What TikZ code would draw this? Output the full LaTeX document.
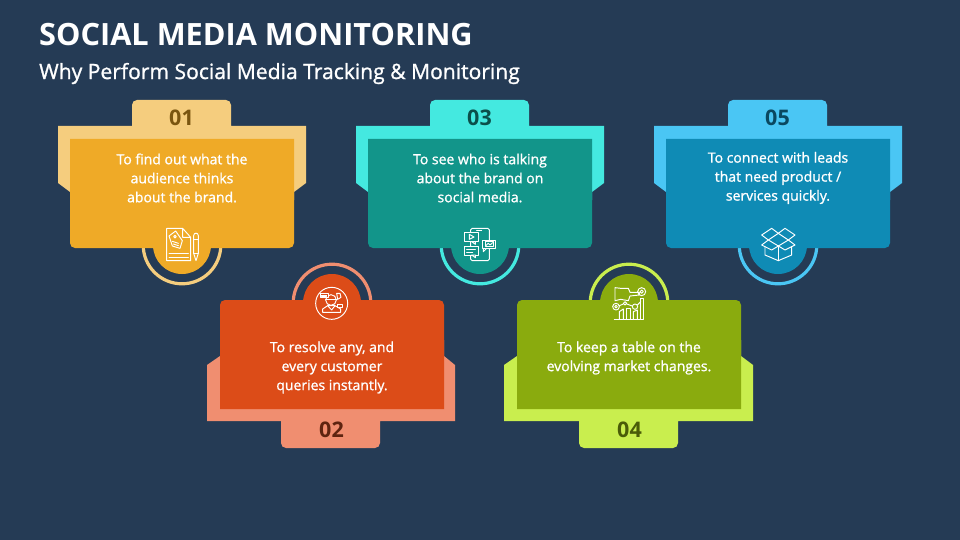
\documentclass[tikz,border=0pt]{standalone}
\usepackage{fontspec}
\setmainfont{Open Sans}
\newfontfamily\semib[FakeBold=1.1]{Open Sans}
\definecolor{bgc}{HTML}{253B55}
\definecolor{fa}{HTML}{EFAA27}\definecolor{ba}{HTML}{F5CD7E}\definecolor{na}{HTML}{7A5510}
\definecolor{fb}{HTML}{DC4C18}\definecolor{bb}{HTML}{F08E70}\definecolor{nb}{HTML}{5E2410}
\definecolor{fc}{HTML}{12958A}\definecolor{bc}{HTML}{44E9E0}\definecolor{nc}{HTML}{0B4F4A}
\definecolor{fd}{HTML}{8AAB0E}\definecolor{bd}{HTML}{C9EE4E}\definecolor{nd}{HTML}{4A5C08}
\definecolor{fe}{HTML}{0F8BB5}\definecolor{be}{HTML}{4AC6F4}\definecolor{ne}{HTML}{0A4860}
\tikzset{
  bodytext/.style={text=white,align=center,inner sep=0pt,font=\fontsize{14.0}{19}\selectfont\semib},
  numtext/.style={inner sep=0pt,font=\fontsize{21.5}{24}\selectfont\bfseries},
  ico/.style={draw=white,line width=0.95pt,line join=round,line cap=round},
  zoomed/.style={x=0.33333pt,y=-0.33333pt},
}
% top-tab card: #1 left of front, #2 front, #3 back, #4 number colour, #5 number, #6 name
\newcommand{\cardup}[6]{
  \begin{scope}[shift={(#1,0)}]
    \draw[draw=#3,line width=3.2pt] (112,245) circle[radius=38.8];
    \fill[#2] (112,245) circle[radius=29];
    \fill[#3] (-12,126) -- (62,126) [rounded corners=5pt] -- (62,100) -- (161,100) [sharp corners] -- (161,126) -- (236,126) -- (236,183) -- (224,192) -- (224,200) -- (0,200) -- (0,192) -- (-12,183) -- cycle;
    \fill[#2] (0,139) -- (224,139) [rounded corners=5pt] -- (224,248) -- (0,248) [sharp corners] -- (0,139) -- cycle;
    \node[numtext,text=#4] (#6) at (111.5,118) {#5};
  \end{scope}}
% bottom-tab card: #7 tab offset (px)
\newcommand{\carddown}[7]{
  \begin{scope}[shift={(#1,0)}]
    \draw[draw=#3,line width=3.2pt] (112,303) circle[radius=38.8];
    \fill[#2] (112,303) circle[radius=29];
    \fill[#3] (-13,421) -- (61+#7,421) [rounded corners=5pt] -- (61+#7,448) -- (160+#7,448) [sharp corners] -- (160+#7,421) -- (235+#7,421) -- (235+#7,365) -- (224,356) -- (224,340) -- (0,340) -- (0,356) -- (-13,365) -- cycle;
    \fill[#2] (0,409) -- (224,409) [rounded corners=5pt] -- (224,300) -- (0,300) [sharp corners] -- (0,409) -- cycle;
    \node[numtext,text=#4] (#6) at (111.5+#7,430) {#5};
  \end{scope}}
\begin{document}
\begin{tikzpicture}[x=1pt,y=-1pt]
\path[use as bounding box,fill=bgc] (0,0) rectangle (960,540);
\node[anchor=west,inner sep=0pt,text=white,font=\fontsize{30.7}{36}\selectfont\bfseries] (title) at (39,34.5) {SOCIAL MEDIA MONITORING};
\node[anchor=west,inner sep=0pt,text=white,font=\fontsize{21.1}{24}\selectfont\semib] (subtitle) at (39,73.5) {Why Perform Social Media Tracking \& Monitoring};

\cardup{70}{fa}{ba}{na}{01}{n1}
\cardup{368}{fc}{bc}{nc}{03}{n3}
\cardup{666}{fe}{be}{ne}{05}{n5}
\carddown{220}{fb}{bb}{nb}{02}{n2}{0}
\carddown{517}{fd}{bd}{nd}{04}{n4}{1}

\node[bodytext] (t1) at (182,178) {To find out what the\\audience thinks\\about the brand.};
\node[bodytext] (t3) at (480,178) {To see who is talking\\about the brand on\\social media.};
\node[bodytext] (t5) at (778,178) {To connect with leads\\that need product /\\services quickly.};
\node[bodytext] (t2) at (332,367.5) {To resolve any, and\\every customer\\queries instantly.};
\node[bodytext] (t4) at (629,358) {To keep a table on the\\evolving market changes.};

% icon 01
\begin{scope}[shift={(135,220)},zoomed,ico]
  \draw (143,25) -- (95,25) -- (95,122) -- (167,122) -- (167,52) -- (143,25) -- (143,52) -- (167,52);
  \draw[fill=fa] (102,48) -- (122,33) -- (142,62) -- (135,85) -- (112,78) -- cycle;
  \draw (120,50) circle[radius=4];
  \draw (112,64) -- (130,70);
  \draw (115,72) -- (130,77);
  \draw (102,100) -- (160,100);
  \draw (102,112) -- (160,112);
  \draw (176,47) .. controls (176,37) and (190,37) .. (190,47) -- (190,100) -- (183,122) -- (176,100) -- cycle;
  \draw (176,58) -- (190,58);
  \draw (176,100) -- (190,100);
\end{scope}
% icon 03
\begin{scope}[shift={(430,220)},zoomed,ico]
  \draw[rounded corners=1.5pt] (122,25) rectangle (178,122);
  \draw (140,31) -- (155,31);
  \draw[fill=fc] (103,37) rectangle (145,65);
  \draw[fill=fc] (125,65) -- (136,65) -- (136,73) -- cycle;
  \draw (118,43) -- (132,51) -- (118,58) -- cycle;
  \draw[fill=fc] (103,80) rectangle (145,105);
  \draw[fill=fc] (125,105) -- (136,105) -- (136,113) -- cycle;
  \draw (110,88) -- (136,88);
  \draw (110,96) -- (128,96);
  \draw[fill=fc] (158,60) rectangle (197,85);
  \draw (160,85) -- (160,95) -- (170,85);
  \draw (165,65) rectangle (190,80);
  \draw (167,77) -- (175,70) -- (180,75) -- (188,68);
\end{scope}
% icon 05
\begin{scope}[shift={(730,220)},zoomed,ico]
  \draw (95,45) -- (125,25) -- (145,40) -- (165,25) -- (195,45) -- (175,60) -- (195,75) -- (165,90) -- (145,78) -- (125,90) -- (95,75) -- (115,60) -- cycle;
  \draw (115,60) -- (145,40) -- (175,60) -- (145,78) -- cycle;
  \draw (105,80) -- (105,105) -- (145,122) -- (185,105) -- (185,80);
  \draw (145,78) -- (145,122);
\end{scope}
% icon 04
\begin{scope}[shift={(580,260)},zoomed,ico]
  \draw (103,178) -- (190,178);
  \draw (180,178) -- (180,115) -- (190,115) -- (190,178);
  \draw (118,178) -- (118,155) -- (130,147) -- (130,178);
  \draw (140,178) -- (140,145) -- (152,145) -- (152,178);
  \draw (160,178) -- (160,155) -- (172,150) -- (172,178);
  \draw (105,83) -- (122,85) -- (145,85) -- (150,97) -- (178,97) -- (178,105) -- (150,108) -- (145,122) -- (122,118) -- (105,122) -- cycle;
  \draw (185,95) circle[radius=12];
  \draw (185,95) circle[radius=5];
  \draw (108,140) circle[radius=10];
  \draw (108,140) circle[radius=4];
  \draw (135,130) circle[radius=5];
  \draw (165,140) circle[radius=8];
  \draw (118,137) -- (130,132);
  \draw (140,132) -- (157,138);
  \draw (172,135) -- (182,125);
\end{scope}
% icon 02
\begin{scope}[shift={(285,260)},zoomed,ico]
  \draw (140,130) circle[radius=48];
  \draw (138,120) circle[radius=16];
  \draw (122,118) -- (155,118);
  \draw (113,157) -- (113,147) -- (128,137) -- (150,137) -- (167,147) -- (167,157) -- cycle;
  \draw (128,137) -- (140,150) -- (150,137);
  \draw[fill=fb] (105,101) rectangle (130,113);
  \draw[fill=white] (110,105) rectangle (125,108);
  \draw[fill=fb] (155,100) -- (165,100) -- (168,112) -- (158,118) -- cycle;
  \draw[fill=fb] (158,132) rectangle (172,143);
\end{scope}
\end{tikzpicture}
\end{document}
